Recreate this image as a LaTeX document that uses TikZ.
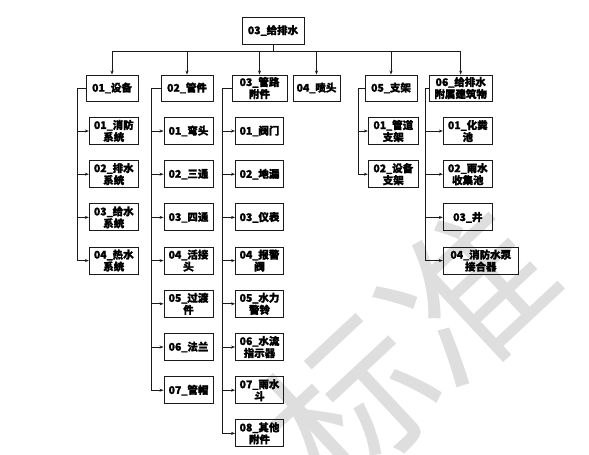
\documentclass[tikz,border=0pt]{standalone}
\usepackage{fontspec}
\usepackage{xcolor}
\usepackage{tikz}
\usetikzlibrary{arrows.meta, calc}
\newfontfamily\cjk{Noto Sans CJK SC}[BoldFeatures={FakeBold=1.5}]
\definecolor{boxline}{HTML}{1A1A1A}
\definecolor{wmgrey}{HTML}{DEDEDE}

\begin{document}
\begin{tikzpicture}[
    x=1pt, y=-1pt,
    box/.style={rectangle, draw=boxline, line width=0.9pt, inner sep=0pt,
                minimum height=27pt, align=center,
                font=\cjk\bfseries\fontsize{10.5}{12}\selectfont},
    root/.style={box, minimum width=62pt},
    lvl1/.style={box, minimum height=26pt},
    leaf/.style={box, minimum width=49pt},
    arrow/.style={-{Stealth[length=4pt, width=3pt]}, line width=0.7pt, color=boxline},
    link/.style={arrow},
]
\useasboundingbox (0,0) rectangle (589,455);

% ============== watermark ==============
\begin{scope}
\clip (0,0) rectangle (589,455);
\node[color=wmgrey, rotate=43, font=\cjk\fontsize{162}{162}\selectfont] (wm) at (410,348) {标准};
\end{scope}

% ============== root ==============
\node[root] (r) at (273,30.5) {03\_给排水};
\coordinate (bus) at (273,51.7);

% ============== first level ==============
\node[lvl1, minimum width=52pt] (p1) at (112,88) {01\_设备};
\node[lvl1, minimum width=52pt] (p2) at (187,88) {02\_管件};
\node[lvl1, minimum width=55pt] (p3) at (259.5,88) {03\_管路\\附件};
\node[lvl1, minimum width=47pt] (p4) at (316.5,88) {04\_喷头};
\node[lvl1, minimum width=52pt] (p5) at (391,88) {05\_支架};
\node[lvl1, minimum width=63pt] (p6) at (460.7,88) {06\_给排水\\附属建筑物};

\draw[arrow] (r.south) -- (bus) -| (p1.north);
\draw[arrow] (r.south) -- (bus) -| (p2.north);
\draw[arrow] (r.south) -- (bus) -| (p3.north);
\draw[arrow] (r.south) -- (bus) -| (p4.north);
\draw[arrow] (r.south) -- (bus) -| (p5.north);
\draw[arrow] (r.south) -- (bus) -| (p6.north);

% ============== 01 equipment ==============
\coordinate (t1) at (77.3,88);
\node[leaf] (c1a) at (113.8,131) {01\_消防\\系统};
\node[leaf] (c1b) at (113.8,174.2) {02\_排水\\系统};
\node[leaf] (c1c) at (113.8,217.4) {03\_给水\\系统};
\node[leaf] (c1d) at (113.8,260.6) {04\_热水\\系统};

\draw[link] (p1.west) -- (t1) |- (c1a.west);
\draw[link] (p1.west) -- (t1) |- (c1b.west);
\draw[link] (p1.west) -- (t1) |- (c1c.west);
\draw[link] (p1.west) -- (t1) |- (c1d.west);

% ============== 02 pipe fittings ==============
\coordinate (t2) at (151.7,88);
\node[leaf] (c2a) at (188.5,131) {01\_弯头};
\node[leaf] (c2b) at (188.5,174.2) {02\_三通};
\node[leaf] (c2c) at (188.5,217.4) {03\_四通};
\node[leaf] (c2d) at (188.5,260.6) {04\_活接\\头};
\node[leaf] (c2e) at (188.5,303.8) {05\_过渡\\件};
\node[leaf] (c2f) at (188.5,347) {06\_法兰};
\node[leaf] (c2g) at (188.5,390.2) {07\_管帽};

\draw[link] (p2.west) -- (t2) |- (c2a.west);
\draw[link] (p2.west) -- (t2) |- (c2b.west);
\draw[link] (p2.west) -- (t2) |- (c2c.west);
\draw[link] (p2.west) -- (t2) |- (c2d.west);
\draw[link] (p2.west) -- (t2) |- (c2e.west);
\draw[link] (p2.west) -- (t2) |- (c2f.west);
\draw[link] (p2.west) -- (t2) |- (c2g.west);

% ============== 03 pipeline accessories ==============
\coordinate (t3) at (222.7,88);
\node[leaf, minimum width=48pt] (c3a) at (259.5,131) {01\_阀门};
\node[leaf, minimum width=48pt] (c3b) at (259.5,174.2) {02\_地漏};
\node[leaf, minimum width=48pt] (c3c) at (259.5,217.4) {03\_仪表};
\node[leaf, minimum width=48pt] (c3d) at (259.5,260.6) {04\_报警\\阀};
\node[leaf, minimum width=48pt] (c3e) at (259.5,303.8) {05\_水力\\警铃};
\node[leaf, minimum width=48pt] (c3f) at (259.5,347) {06\_水流\\指示器};
\node[leaf, minimum width=48pt] (c3g) at (259.5,390.2) {07\_雨水\\斗};
\node[leaf, minimum width=48pt] (c3h) at (259.5,433.4) {08\_其他\\附件};

\draw[link] (p3.west) -- (t3) |- (c3a.west);
\draw[link] (p3.west) -- (t3) |- (c3b.west);
\draw[link] (p3.west) -- (t3) |- (c3c.west);
\draw[link] (p3.west) -- (t3) |- (c3d.west);
\draw[link] (p3.west) -- (t3) |- (c3e.west);
\draw[link] (p3.west) -- (t3) |- (c3f.west);
\draw[link] (p3.west) -- (t3) |- (c3g.west);
\draw[link] (p3.west) -- (t3) |- (c3h.west);

% ============== 05 supports ==============
\coordinate (t5) at (358.3,88);
\node[leaf, minimum width=50pt] (c5a) at (393.3,131) {01\_管道\\支架};
\node[leaf, minimum width=50pt] (c5b) at (393.3,174.2) {02\_设备\\支架};

\draw[link] (p5.west) -- (t5) |- (c5a.west);
\draw[link] (p5.west) -- (t5) |- (c5b.west);

% ============== 06 ancillary structures ==============
\coordinate (t6) at (425.7,88);
\node[leaf] (c6a) at (467.8,131) {01\_化粪\\池};
\node[leaf] (c6b) at (467.8,174.2) {02\_雨水\\收集池};
\node[leaf] (c6c) at (467.8,217.4) {03\_井};
\node[leaf, minimum width=75pt] (c6d) at (480.8,260.6) {04\_消防水泵\\接合器};

\draw[link] (p6.west) -- (t6) |- (c6a.west);
\draw[link] (p6.west) -- (t6) |- (c6b.west);
\draw[link] (p6.west) -- (t6) |- (c6c.west);
\draw[link] (p6.west) -- (t6) |- (c6d.west);

\end{tikzpicture}
\end{document}
